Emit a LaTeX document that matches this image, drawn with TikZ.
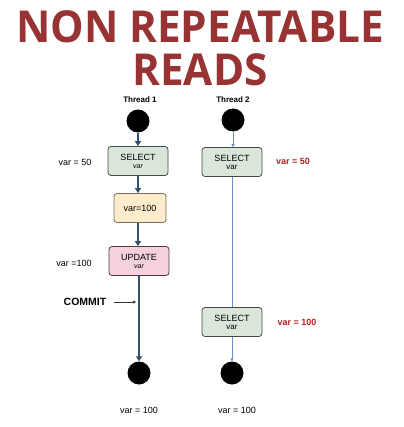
\documentclass[tikz,border=0pt]{standalone}
\usepackage{fontspec}
\setmainfont{Liberation Sans}
\newfontfamily\titlefont{Open Sans}
\usetikzlibrary{arrows.meta}
\definecolor{titlered}{HTML}{983333}
\definecolor{valred}{HTML}{B02020}
\definecolor{lineone}{HTML}{34506F}
\definecolor{linetwo}{HTML}{6A8CC0}
\tikzset{
  opbox/.style={draw=#1!55!black, rounded corners=3pt, minimum width=60pt, minimum height=29pt,
    align=center, font=\fontsize{9}{9}\selectfont, line width=0.8pt, inner sep=1pt},
  selbox/.style={opbox=green!10!gray, fill=green!20!gray!25},
  setbox/.style={opbox=yellow!30!gray, fill=yellow!30!orange!18, minimum width=52pt},
  updbox/.style={opbox=red!20!gray, fill=purple!18!white},
  dot/.style={circle, fill=black, minimum width=23pt, minimum height=21pt, inner sep=0pt},
  flowone/.style={lineone, line width=2pt, -{Triangle[length=5pt,width=6pt]}},
  flowtwo/.style={linetwo, line width=0.7pt, -{Triangle[length=3pt,width=3pt]}},
  lbl/.style={font=\fontsize{9}{9}\selectfont, inner sep=1pt},
  redlbl/.style={lbl, text=valred, font=\fontsize{9}{9}\selectfont\bfseries},
  titletext/.style={text=titlered, inner sep=0pt, font=\fontsize{44}{44}\selectfont\titlefont\bfseries}
}
\begin{document}
\begin{tikzpicture}[x=1pt, y=-1pt]
    \useasboundingbox (0,0) rectangle (403,427);
    % title
    \node[titletext] (title1) at (200,27) {\scalebox{0.96}[1]{NON REPEATABLE}};
    \node[titletext] (title2) at (200,70) {\scalebox{0.96}[1]{READS}};
    % thread 1
    \node[lbl, font=\fontsize{8}{8}\selectfont\bfseries] (thone) at (140,100) {Thread 1};
    \node[dot] (startone) at (138,121) {};
    \node[selbox] (selone) at (138,161) {SELECT\\[-1pt]{\fontsize{7}{7}\selectfont\itshape var}};
    \node[setbox] (setone) at (140,208) {var=100};
    \node[updbox] (updone) at (139,261) {UPDATE\\[-1pt]{\fontsize{7}{7}\selectfont\itshape var}};
    \node[dot] (endone) at (139,373) {};
    \draw[flowone] (startone) -- (selone);
    \draw[flowone] (selone) -- (setone.north -| selone);
    \draw[flowone] (setone.south -| selone) -- (updone.north -| selone);
    \draw[flowone] (updone.south -| endone) -- (endone);
    \node[lbl] (valone) at (75,162) {var = 50};
    \node[lbl] (valtwo) at (74,263) {var =100};
    \node[lbl] (valend) at (139,410) {var = 100};
    \node[font=\fontsize{10.5}{10.5}\selectfont\bfseries] (commit) at (85,302) {COMMIT};
    \coordinate (cpoint) at (136,302);
    \draw[black!80, line width=0.6pt, -{Triangle[length=3pt,width=3pt]}] (commit.east) ++(4,0) -- (cpoint);
    % thread 2
    \node[lbl, font=\fontsize{8}{8}\selectfont\bfseries] (thtwo) at (233,100) {Thread 2};
    \node[dot] (starttwo) at (233,120) {};
    \node[selbox] (seltwo) at (232,162) {SELECT\\[-1pt]{\fontsize{8}{8}\selectfont var}};
    \node[selbox] (selthree) at (232,322) {SELECT\\[-1pt]{\fontsize{8}{8}\selectfont var}};
    \node[dot] (endtwo) at (232,373) {};
    \draw[flowtwo] (starttwo) -- (seltwo.north -| starttwo);
    \draw[linetwo, line width=0.7pt] (seltwo) -- (selthree);
    \draw[flowtwo] (selthree) -- (endtwo);
    \node[redlbl] (redone) at (293,161) {var = 50};
    \node[redlbl] (redtwo) at (297,322) {var = 100};
    \node[lbl] (valend2) at (237,410) {var = 100};
\end{tikzpicture}
\end{document}
